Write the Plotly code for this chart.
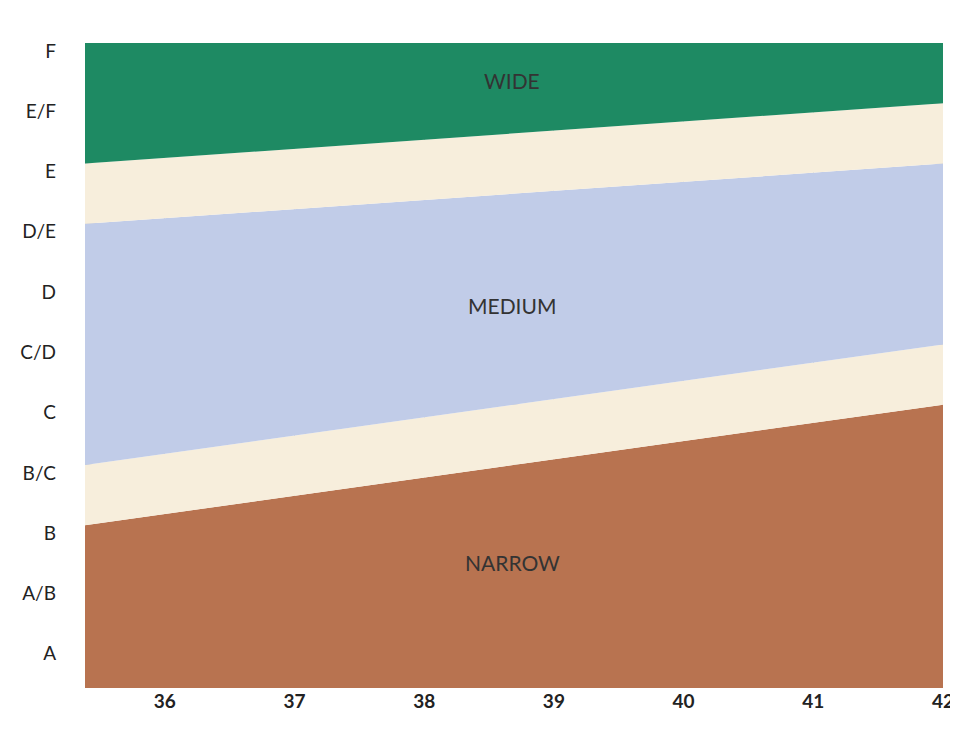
import plotly.graph_objects as go

# ---------- data ----------
x_ends = [35.385, 42]
y_floor = [0.65, 0.65]
narrow_top = [2.0, 3.0]
medium_bottom = [2.5, 3.5]
medium_top = [4.5, 5.0]
wide_bottom = [5.0, 5.5]
y_ceiling = [6.0, 6.0]

y_tickvals = [1, 1.5, 2, 2.5, 3, 3.5, 4, 4.5, 5, 5.5, 6]
y_ticktext = ["A", "A/B", "B", "B/C", "C", "C/D", "D", "D/E", "E", "E/F", "F"]
x_tickvals = [36, 37, 38, 39, 40, 41, 42]

zone_labels = ["WIDE", "MEDIUM", "NARROW"]
zone_label_y = [5.69, 3.82, 1.69]

BROWN = "#b87350"
CREAM = "#f7eedc"
BLUE = "#c1cce8"
GREEN = "#1e8a63"

fig = go.Figure()
bands = [
    (y_floor, None),
    (narrow_top, BROWN),
    (medium_bottom, CREAM),
    (medium_top, BLUE),
    (wide_bottom, CREAM),
    (y_ceiling, GREEN),
]
for ys, col in bands:
    fig.add_trace(go.Scatter(
        x=x_ends, y=ys, mode="lines", line=dict(width=0),
        fill=None if col is None else "tonexty",
        fillcolor=col, hoverinfo="skip", showlegend=False,
    ))

for txt, y in zip(zone_labels, zone_label_y):
    fig.add_annotation(x=38.68, y=y, text=txt, showarrow=False,
                       font=dict(size=21, color="#333333", family="Lato"))

fig.update_layout(
    width=958, height=738,
    margin=dict(l=72, r=15, t=35, b=58),
    plot_bgcolor="white", paper_bgcolor="white",
    font=dict(family="Lato", color="#222222"),
    xaxis=dict(range=x_ends, tickvals=x_tickvals, showgrid=True,
               gridcolor="rgba(0,0,0,0.18)", layer="above traces",
               zeroline=False, tickfont=dict(size=19, family="Lato", weight="bold")),
    yaxis=dict(range=[0.65, 6.0], tickvals=y_tickvals, ticktext=y_ticktext,
               showgrid=True, gridcolor="rgba(0,0,0,0.18)", layer="above traces",
               zeroline=False, tickfont=dict(size=19, family="Lato"),
               ticklabelstandoff=28, ticklabelshift=8),
)

fig.write_html("out.html")
